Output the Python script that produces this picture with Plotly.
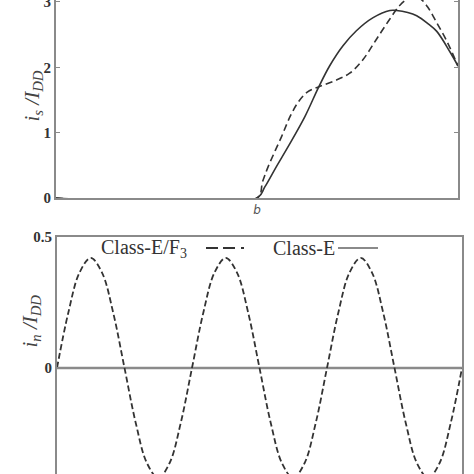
import plotly.graph_objects as go

# ---- Data (theta in degrees over one switching period) ----
theta_top_e = [0, 180, 187, 197, 208, 223, 235, 245, 257, 269, 284, 299, 305, 315, 323, 333, 341, 353, 360]
is_class_e = [0, 0, 0.17, 0.47, 0.79, 1.25, 1.69, 2.02, 2.33, 2.56, 2.76, 2.87, 2.87, 2.84, 2.79, 2.67, 2.55, 2.23, 2.02]

theta_top_ef3 = [0, 180, 185, 190, 202, 210, 217, 225, 235, 249, 263, 275, 287, 299, 308, 316, 322, 327, 333, 341, 350, 360]
is_class_ef3 = [0, 0, 0.25, 0.48, 0.94, 1.26, 1.47, 1.62, 1.70, 1.79, 1.91, 2.12, 2.43, 2.74, 2.95, 3.06, 3.08, 3.04, 2.92, 2.68, 2.40, 2.02]

theta_bot = list(range(0, 361, 10))
in_class_ef3 = [0, 0.21, 0.364, 0.42, 0.364, 0.21, 0, -0.21, -0.364, -0.42, -0.364, -0.21,
                0, 0.21, 0.364, 0.42, 0.364, 0.21, 0, -0.21, -0.364, -0.42, -0.364, -0.21,
                0, 0.21, 0.364, 0.42, 0.364, 0.21, 0, -0.21, -0.364, -0.42, -0.364, -0.21, 0]
in_class_e = [0] * len(theta_bot)

top_yticks = [0, 1, 2, 3]
bot_yticks = [0, 0.5]
bot_yticktext = ["0", "0.5"]
b_tick = [180]
b_label = ["<i>b</i>"]

SERIF = "Liberation Serif"
AX = "#8a8a8a"
INK = "#333333"

fig = go.Figure()

fig.add_trace(go.Scatter(x=theta_top_e, y=is_class_e, mode="lines", line_shape="spline",
                         line=dict(color=INK, width=1.6), xaxis="x", yaxis="y", showlegend=False))
fig.add_trace(go.Scatter(x=theta_top_ef3, y=is_class_ef3, mode="lines", line_shape="spline",
                         line=dict(color=INK, width=1.6, dash="7px,4px"), xaxis="x", yaxis="y",
                         showlegend=False))
fig.add_trace(go.Scatter(x=theta_bot, y=in_class_e, mode="lines",
                         line=dict(color=AX, width=2.5), xaxis="x2", yaxis="y2", showlegend=False))
fig.add_trace(go.Scatter(x=theta_bot, y=in_class_ef3, mode="lines", line_shape="spline",
                         line=dict(color=INK, width=1.8, dash="6px,3px"), xaxis="x2", yaxis="y2",
                         showlegend=False))

tickfont = dict(family=SERIF, size=15, color=INK, weight="bold")

fig.update_layout(
    width=474, height=474,
    margin=dict(l=0, r=0, t=0, b=0, autoexpand=False),
    paper_bgcolor="white", plot_bgcolor="white",
    hovermode=False,
    xaxis=dict(domain=[56 / 474, 458 / 474], range=[0, 360], anchor="y", automargin=False,
               showgrid=False, zeroline=False, showline=True, linecolor=AX, linewidth=2,
               tickvals=b_tick, ticktext=b_label, ticks="",
               tickfont=dict(family="DejaVu Sans", size=12, color="#555")),
    yaxis=dict(domain=[1 - 198 / 474, 1], range=[0, 3.03], anchor="x", automargin=False,
               showgrid=False, zeroline=False, showline=True, linecolor=AX, linewidth=2,
               mirror="ticks", ticks="inside", ticklen=4, tickcolor=AX,
               ticklabeloverflow="allow",
               tickvals=top_yticks, tickfont=tickfont),
    xaxis2=dict(domain=[57 / 474, 462 / 474], range=[0, 360], anchor="y2", side="top",
                automargin=False,
                showgrid=False, zeroline=False, showline=True, linecolor=AX, linewidth=2,
                showticklabels=False, ticks=""),
    yaxis2=dict(domain=[0, 0.5], range=[-0.405, 0.5], anchor="x2", automargin=False,
                showgrid=False, zeroline=False, showline=True, linecolor=AX, linewidth=2,
                mirror="ticks", ticks="inside", ticklen=4, tickcolor=AX,
                ticklabeloverflow="allow",
                tickvals=bot_yticks, ticktext=bot_yticktext, tickfont=tickfont),
)

# Axis titles
fig.add_annotation(text="<i>i<sub>s</sub> /I<sub>DD</sub></i>", xref="paper", yref="paper",
                   x=17 / 474, y=1 - 69 / 474, textangle=-90, showarrow=False,
                   font=dict(family=SERIF, size=21, color="#444"))
fig.add_annotation(text="<i>i<sub>n</sub> /I<sub>DD</sub></i>", xref="paper", yref="paper",
                   x=15 / 474, y=1 - 350 / 474, textangle=-90, showarrow=False,
                   font=dict(family=SERIF, size=21, color="#444"))

# Legend (text followed by line sample)
fig.add_annotation(text="Class-E/F<sub>3</sub>", xref="paper", yref="paper",
                   x=99 / 474, y=1 - 248 / 474, xanchor="left", showarrow=False,
                   font=dict(family=SERIF, size=20, color=INK))
fig.add_shape(type="line", xref="paper", yref="paper", x0=206 / 474, x1=252 / 474,
              y0=1 - 248 / 474, y1=1 - 248 / 474,
              line=dict(color=INK, width=1.8, dash="12px,5px,12px,6px,3px,8px"))
fig.add_annotation(text="Class-E", xref="paper", yref="paper",
                   x=271 / 474, y=1 - 248 / 474, xanchor="left", showarrow=False,
                   font=dict(family=SERIF, size=20, color=INK))
fig.add_shape(type="line", xref="paper", yref="paper", x0=338 / 474, x1=378 / 474,
              y0=1 - 248 / 474, y1=1 - 248 / 474,
              line=dict(color=AX, width=2))

fig.write_html("out.html",
               config={"displayModeBar": False, "staticPlot": True},
               post_script="document.body.style.margin='0';document.body.style.overflow='hidden';")
